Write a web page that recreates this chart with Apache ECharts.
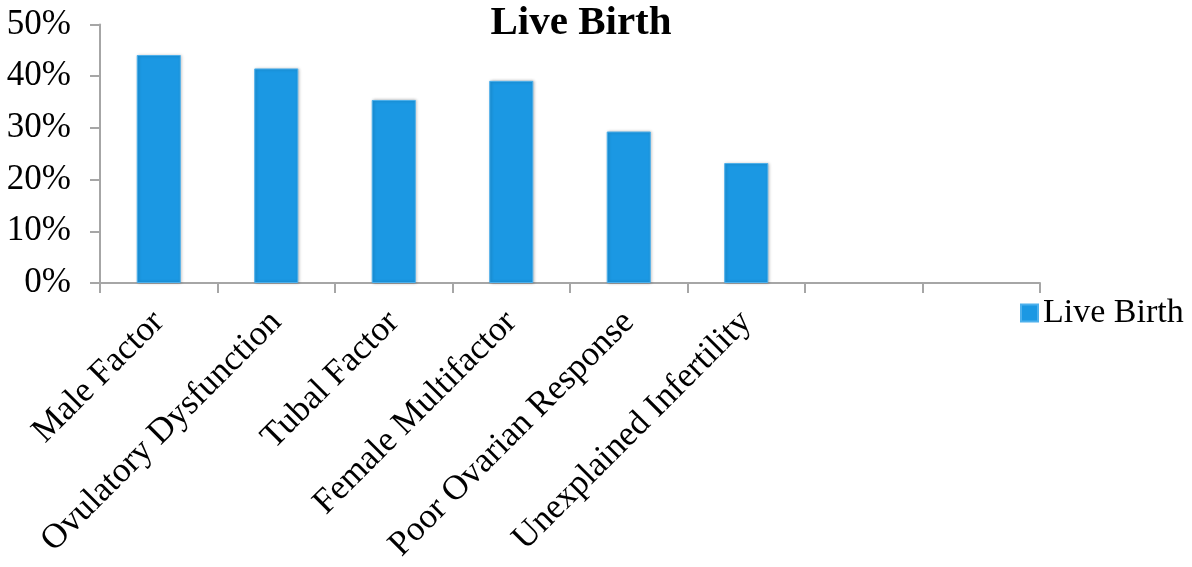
<!DOCTYPE html>
<html>
<head>
<meta charset="utf-8">
<script src="https://cdn.jsdelivr.net/npm/echarts@6/dist/echarts.min.js"></script>
<style>html,body{margin:0;padding:0;background:#fff}#c{width:1192px;height:567px}</style>
</head>
<body>
<div id="c"></div>
<script>
const categories = ['Male Factor', 'Ovulatory Dysfunction', 'Tubal Factor', 'Female Multifactor', 'Poor Ovarian Response', 'Unexplained Infertility', '', ' '];
const liveBirth = [0.441, 0.415, 0.354, 0.391, 0.293, 0.232, null, null];
const yTicks = [0, 0.1, 0.2, 0.3, 0.4, 0.5];
const seriesName = 'Live Birth';
const chartTitle = 'Live Birth';

const FONT = '"Liberation Serif", "Times New Roman", serif';
const chart = echarts.init(document.getElementById('c'), null, {renderer: 'canvas'});
chart.setOption({
  animation: false,
  backgroundColor: '#fff',
  title: {
    text: chartTitle,
    left: 576, top: -2,
    textAlign: 'center',
    textStyle: {fontFamily: FONT, fontSize: 41, fontWeight: 'bold', color: '#000'}
  },
  legend: {
    data: [seriesName],
    left: 1015, top: 291,
    itemWidth: 17, itemHeight: 17, itemGap: 8,
    icon: 'rect',
    textStyle: {fontFamily: FONT, fontSize: 34, color: '#000'}
  },
  grid: {left: 100, right: 152, top: 24.5, bottom: 284, containLabel: false},
  xAxis: {
    type: 'category',
    data: categories,
    boundaryGap: true,
    axisLine: {lineStyle: {color: '#A6A6A6', width: 2}},
    axisTick: {show: true, length: 10, lineStyle: {color: '#A6A6A6', width: 2}},
    axisLabel: {
      interval: 0, rotate: 45, margin: 34,
      fontFamily: FONT, fontSize: 35, color: '#000'
    },
    splitLine: {show: false}
  },
  yAxis: {
    type: 'value',
    min: yTicks[0], max: yTicks[yTicks.length - 1], interval: 0.1,
    axisLine: {show: true, lineStyle: {color: '#A6A6A6', width: 2}},
    axisTick: {show: true, length: 10, lineStyle: {color: '#A6A6A6', width: 2}},
    axisLabel: {
      margin: 29,
      fontFamily: FONT, fontSize: 35, color: '#000',
      formatter: v => Math.round(v * 100) + '%'
    },
    splitLine: {show: false}
  },
  series: [{
    name: seriesName,
    type: 'bar',
    data: liveBirth,
    barWidth: '37.5%',
    itemStyle: {
      color: '#1B98E3',
      borderColor: '#4DB0EC', borderWidth: 1,
      shadowColor: 'rgba(0,0,0,0.25)', shadowBlur: 3, shadowOffsetX: 1
    }
  }]
});
</script>
</body>
</html>
